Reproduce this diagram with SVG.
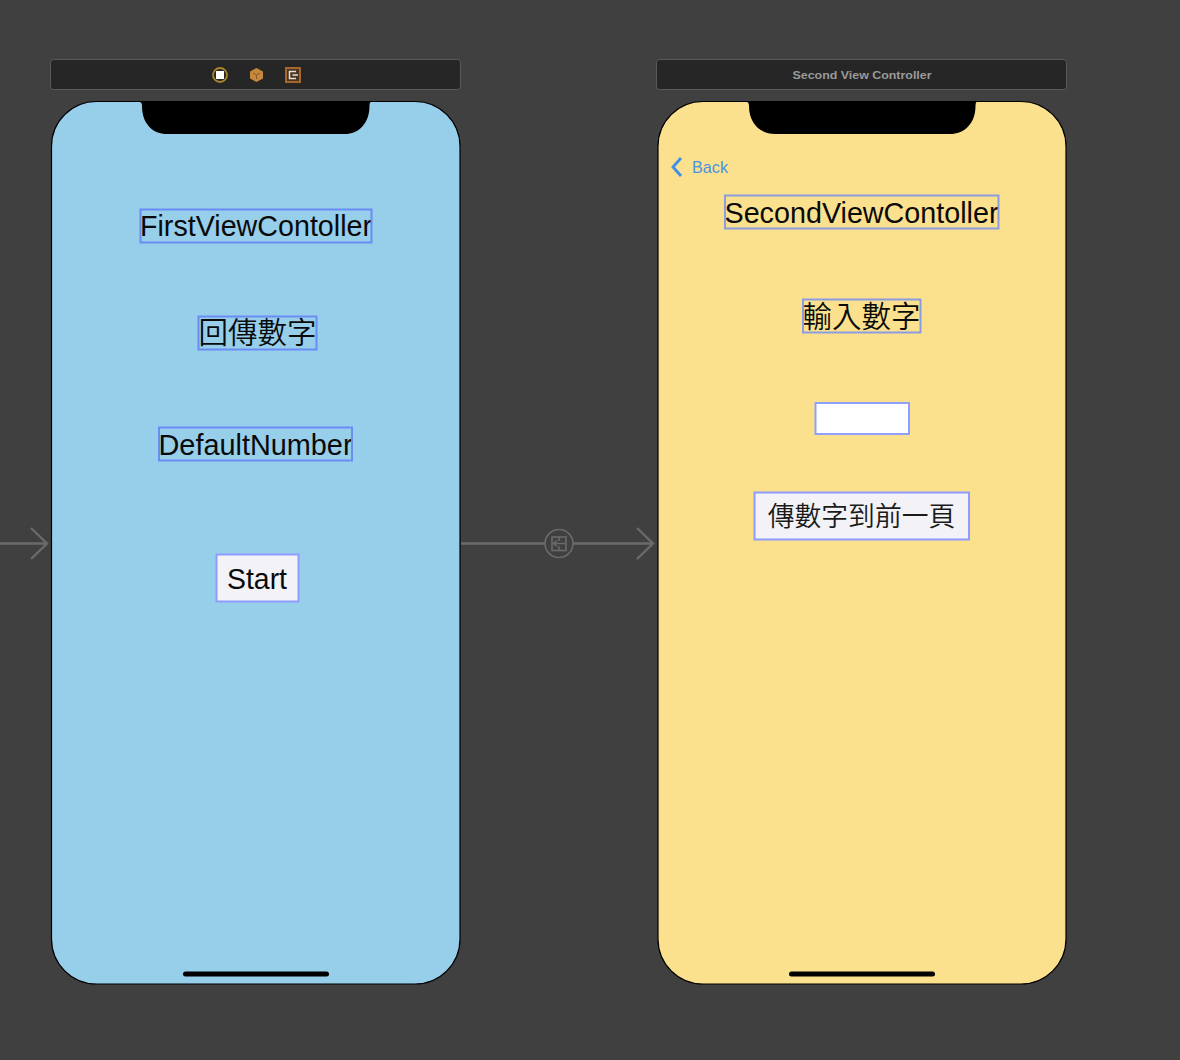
<svg xmlns="http://www.w3.org/2000/svg" width="1180" height="1060" viewBox="0 0 1180 1060">
<style>
.bar{fill:#262626;stroke:#5a5a5a;stroke-width:1}
.phone{stroke:#000;stroke-width:1.2}
.notch{fill:#000}
.home{fill:#000}
.lbl{font-family:"Liberation Sans",Arial,sans-serif;font-size:29px;fill:#0a0a0a;text-anchor:middle}
.cjk{font-family:"Noto Sans CJK TC",sans-serif;font-weight:350;font-size:29.500px;fill:#0a0a0a;text-anchor:middle}
.cjk2{font-family:"Noto Sans CJK TC",sans-serif;font-weight:350;font-size:26.800px;fill:#1a1a1a;text-anchor:middle}
.box{fill:none;stroke:#6a8cf5;stroke-width:2}
.boxy{fill:none;stroke:#8b9ce0;stroke-width:2}
.btn{fill:#f2f2f7;stroke:#8f9cff;stroke-width:2}
.conn{fill:none;stroke:#6a6a6a;stroke-width:2.400}
.conn2{fill:none;stroke:#6a6a6a;stroke-width:1.600}
</style>
<rect width="1180" height="1060" fill="#404040"/>
<g id="connectors">
<path class="conn" d="M0 543.500H47M31 528L47 543.500L31 559"/>
<path class="conn" d="M461 543.500H544.500M573.500 543.500H653M637 528L653 543.500L637 559"/>
<circle class="conn2" cx="559" cy="543.500" r="14"/>
<rect class="conn2" x="552" y="537" width="14" height="13.500"/>
<path class="conn2" d="M559 537V541M559 546V550.500M565 543.500H553.500M557 540.500L553.500 543.500L557 546.500"/>
</g>
<g id="first-view-controller">
<rect class="bar" x="50.500" y="59.500" width="410" height="30" rx="3"/>
<circle cx="220" cy="75" r="7" fill="#262626" stroke="#a8842a" stroke-width="1.800"/>
<rect x="216" y="71" width="8" height="8" fill="#fff"/>
<path d="M256.500 68L263 71.500V78.500L256.500 82L250 78.500V71.500Z" fill="#c5873c"/>
<path d="M253 73L256.500 75L260 73M256.500 75V79" fill="none" stroke="#8a5a28" stroke-width="1"/>
<rect x="285" y="67" width="16" height="16" fill="#a5672b"/>
<rect x="287" y="69" width="12" height="12" fill="#4a3520"/>
<path d="M296 71.500H289.500V78.500H296M292.500 75H298" fill="none" stroke="#e9e0d5" stroke-width="1.500"/>
<rect class="phone" fill="#97ceea" x="51.500" y="101.500" width="408.500" height="882.500" rx="45"/>
<path class="notch" d="M138 101H373C370 102 369.500 103 369.500 106C369.500 124 358 134 345 134H167C153 134 142 124 142 106C142 103 141 102 138 101Z"/>
<rect class="home" x="183" y="971.500" width="146" height="5" rx="2.500"/>
<text class="lbl" x="256" y="236" textLength="232" lengthAdjust="spacingAndGlyphs">FirstViewContoller</text>
<rect class="box" x="140.500" y="209.500" width="231" height="33"/>
<text class="cjk" x="257.500" y="343">回傳數字</text>
<rect class="box" x="198.500" y="316.500" width="118" height="33"/>
<text class="lbl" x="255.500" y="454.500" textLength="194" lengthAdjust="spacingAndGlyphs">DefaultNumber</text>
<rect class="box" x="159" y="427.500" width="193" height="33"/>
<rect class="btn" x="216.500" y="554.500" width="82" height="47"/>
<text class="lbl" x="257" y="588.500" textLength="60" lengthAdjust="spacingAndGlyphs">Start</text>
</g>
<g id="second-view-controller">
<rect class="bar" x="656.500" y="59.500" width="410" height="30" rx="3"/>
<text x="862" y="79" font-family="Liberation Sans,sans-serif" font-size="11.500" font-weight="700" fill="#9a9a9a" text-anchor="middle" textLength="139" lengthAdjust="spacingAndGlyphs">Second View Controller</text>
<rect class="phone" fill="#fbe08e" x="658" y="101.500" width="408" height="882.500" rx="45"/>
<path class="notch" d="M745 101H978C976 102 975.500 103 975.500 106C975.500 124 964 134 950 134H775C761 134 749 124 749 106C749 103 748 102 745 101Z"/>
<rect class="home" x="789" y="971.500" width="146" height="5" rx="2.500"/>
<path d="M681 158L673 167L681 176" fill="none" stroke="#3d8fe8" stroke-width="2.800"/>
<text x="692" y="173" font-family="Liberation Sans,sans-serif" font-size="17" fill="#4a93e0" textLength="36" lengthAdjust="spacingAndGlyphs">Back</text>
<text class="lbl" x="861.500" y="223" textLength="274" lengthAdjust="spacingAndGlyphs">SecondViewContoller</text>
<rect class="boxy" x="725" y="195.500" width="273.500" height="33"/>
<text class="cjk" x="861.500" y="327">輸入數字</text>
<rect class="boxy" x="803" y="299.500" width="117.500" height="33"/>
<rect x="815.500" y="403" width="93.500" height="31" fill="#fff" stroke="#8f9fff" stroke-width="2"/>
<rect class="btn" x="754.500" y="492.500" width="214.500" height="47"/>
<text class="cjk2" x="861.500" y="525.500">傳數字到前一頁</text>
</g>
</svg>
